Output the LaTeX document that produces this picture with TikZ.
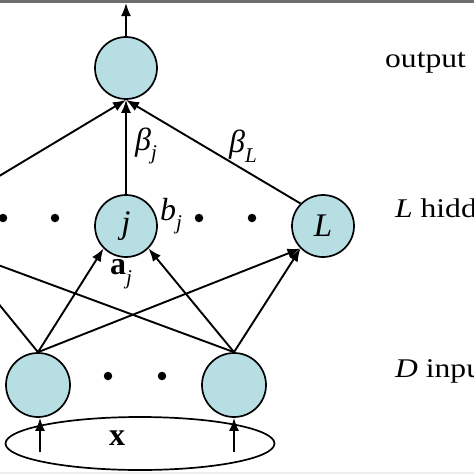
\documentclass[tikz,border=0pt]{standalone}
\usepackage{fontspec}
\setmainfont{Liberation Serif}
\newfontfamily\widefont[FakeStretch=1.17]{Liberation Serif}
\usetikzlibrary{arrows.meta,shapes.geometric}
\definecolor{nodefill}{RGB}{183,222,227}
\definecolor{edgegray}{RGB}{110,110,110}
\definecolor{lightedge}{RGB}{238,238,238}
\newcommand{\subtxt}[1]{\raisebox{-0.3em}{\fontsize{21}{21}\selectfont\mdseries\itshape #1}}
\begin{document}
\begin{tikzpicture}[x=1pt,y=-1pt,
  neuron/.style={circle,draw=black,line width=1.7pt,fill=nodefill,minimum size=62pt,inner sep=0pt,font=\fontsize{33}{36}\selectfont\itshape},
  conn/.style={line width=1.9pt,-{Latex[length=13pt,width=10pt]}},
  dotmark/.style={circle,fill=black,minimum size=8.5pt,inner sep=0pt},
  lbl/.style={font=\fontsize{32}{36}\selectfont,inner sep=0pt},
  sidelbl/.style={font=\widefont\fontsize{27}{30}\selectfont,anchor=base west,inner sep=0pt}]
\useasboundingbox (0,0) rectangle (474,474);
\clip (0,0) rectangle (474,474);
\fill[edgegray] (0,0) rectangle (474,2.5);
\fill[lightedge] (0,472) rectangle (474,474);
% nodes
\node[neuron] (out) at (126,68) {};
\node[neuron] (h1) at (-69,226) {};
\node[neuron] (hj) at (126,226) {j};
\node[neuron] (hL) at (323,226) {L};
\node[neuron,minimum size=64pt] (i1) at (38,385) {};
\node[neuron,minimum size=64pt] (i2) at (234,385) {};
\node[ellipse,draw,line width=1.7pt,minimum width=269pt,minimum height=53pt,inner sep=0pt] (xin) at (140,443.5) {};
\node[lbl] (xlbl) at (117,438) {\bfseries x};
\coordinate (top) at (126,3);
\coordinate (e1) at (40,452);
\coordinate (e2) at (234,452);
% dots
\node[dotmark] (d1) at (3,218) {};
\node[dotmark] (d2) at (55,218) {};
\node[dotmark] (d3) at (199,218) {};
\node[dotmark] (d4) at (252,218) {};
\node[dotmark] (d5) at (108,376) {};
\node[dotmark] (d6) at (162,376) {};
% connectors
\draw[conn] (out.north) -- (top);
\draw[conn] (hj) -- (out.south);
\draw[conn] (h1.north east) -- (out.south);
\draw[conn] (hL.north west) -- (out.south);
\draw[conn] (i1.north) -- (h1.south east);
\draw[conn] (i1.north) -- (hj.south west);
\draw[conn] (i1.north) -- (hL.south west);
\draw[conn] (i2.north) -- (h1.south east);
\draw[conn] (i2.north) -- (hj.south east);
\draw[conn] (i2.north) -- (hL.south west);
\draw[conn] (e1) -- (e1 |- i1.south);
\draw[conn] (e2) -- (e2 |- i2.south);
% labels
\node[lbl] (bj) at (146,146) {\itshape β\subtxt{j}};
\node[lbl] (bL) at (243,146) {\itshape β\subtxt{L}};
\node[lbl] (bias) at (171,216) {\itshape b\subtxt{j}};
\node[lbl] (aj) at (121,274) {\bfseries a\subtxt{j}};
\node[sidelbl] (outlbl) at (385,67) {output};
\node[sidelbl] (hidlbl) at (395,217) {\itshape L\upshape\ hidden};
\node[sidelbl] (inlbl) at (395,377) {\itshape D\upshape\ input};
\end{tikzpicture}
\end{document}
